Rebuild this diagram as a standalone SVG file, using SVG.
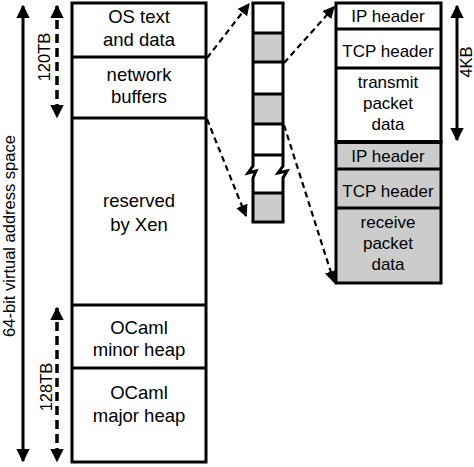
<svg xmlns="http://www.w3.org/2000/svg" width="474" height="467" viewBox="0 0 474 467">
<style>
.box{fill:#fff;stroke:#000;stroke-width:3}
.g{fill:#cccccc;stroke:none}
.ln{stroke:#000;stroke-width:3;fill:none}
.t{font-family:"Liberation Sans",Arial,sans-serif;font-size:18.5px;text-anchor:middle;fill:#000}
.t2{font-family:"Liberation Sans",Arial,sans-serif;font-size:17px;text-anchor:middle;fill:#000}
.v{font-family:"Liberation Sans",Arial,sans-serif;font-size:16.5px;text-anchor:middle;fill:#000}
.sa{stroke:#000;stroke-width:3;fill:none}
.da{stroke:#000;stroke-width:3.5;fill:none;stroke-dasharray:9 5}
.dc{stroke:#000;stroke-width:2.2;fill:none;stroke-dasharray:6 4}
</style>
<defs>
<marker id="ah" viewBox="0 0 10 10" refX="9" refY="5" markerWidth="4.5" markerHeight="4.5" markerUnits="strokeWidth" orient="auto-start-reverse">
<path d="M0,0 L10,5 L0,10 z" fill="#000"/>
</marker>
<marker id="ahd" viewBox="0 0 10 10" refX="9" refY="5" markerWidth="3.9" markerHeight="3.9" markerUnits="strokeWidth" orient="auto-start-reverse">
<path d="M0,0 L10,5 L0,10 z" fill="#000"/>
</marker>
<marker id="ahs" viewBox="0 0 10 10" refX="9" refY="5" markerWidth="5.5" markerHeight="5.5" markerUnits="strokeWidth" orient="auto">
<path d="M0,0 L10,5 L0,10 z" fill="#000"/>
</marker>
</defs>

<g id="main-column">
<rect class="box" x="72" y="3" width="134" height="459"/>
<line class="ln" x1="72" y1="57" x2="206" y2="57"/>
<line class="ln" x1="72" y1="118" x2="206" y2="118"/>
<line class="ln" x1="72" y1="305" x2="206" y2="305"/>
<line class="ln" x1="72" y1="368" x2="206" y2="368"/>
</g>
<g id="os-text"><text class="t" x="139" y="23">OS text</text><text class="t" x="139" y="46">and data</text></g>
<g id="network-buffers"><text class="t" x="139" y="81">network</text><text class="t" x="139" y="103">buffers</text></g>
<g id="reserved"><text class="t" x="139" y="207">reserved</text><text class="t" x="139" y="231">by Xen</text></g>
<g id="minor-heap"><text class="t" x="139" y="334">OCaml</text><text class="t" x="139" y="356">minor heap</text></g>
<g id="major-heap"><text class="t" x="139" y="399">OCaml</text><text class="t" x="139" y="422">major heap</text></g>

<g id="address-space">
<line class="sa" x1="23" y1="6" x2="23" y2="461" marker-start="url(#ah)" marker-end="url(#ah)"/>
<text class="v" transform="translate(15,236) rotate(-90)">64-bit virtual address space</text>
</g>
<g id="range-120TB">
<line class="da" x1="57" y1="6" x2="57" y2="117" marker-start="url(#ahd)" marker-end="url(#ahd)"/>
<text class="v" transform="translate(50,57) rotate(-90)">120TB</text>
</g>
<g id="range-128TB">
<line class="da" x1="57" y1="308" x2="57" y2="461" marker-start="url(#ahd)" marker-end="url(#ahd)"/>
<text class="v" transform="translate(52,387) rotate(-90)">128TB</text>
</g>

<g id="buffer-strip">
<rect x="253" y="3" width="30" height="219" fill="#fff"/>
<rect class="g" x="253" y="33" width="30" height="29"/>
<rect class="g" x="253" y="94" width="30" height="30"/>
<rect class="g" x="253" y="193" width="30" height="29"/>
<line class="ln" x1="251.5" y1="3" x2="284.5" y2="3"/>
<line class="ln" x1="253" y1="33" x2="283" y2="33"/>
<line class="ln" x1="253" y1="62" x2="283" y2="62"/>
<line class="ln" x1="253" y1="94" x2="283" y2="94"/>
<line class="ln" x1="253" y1="124" x2="283" y2="124"/>
<line class="ln" x1="253" y1="155" x2="283" y2="155"/>
<line class="ln" x1="253" y1="193" x2="283" y2="193"/>
<line class="ln" x1="251.5" y1="222" x2="284.5" y2="222"/>
<path class="ln" d="M253,3 V166 L248,173 L256,171 L253,178 V222"/>
<path class="ln" d="M283,3 V166 L278,173 L287,171 L283,178 V222"/>
</g>

<g id="packet-column">
<rect class="box" x="336" y="3" width="105" height="139"/>
<rect x="336" y="142" width="105" height="141" fill="#cccccc" stroke="#000" stroke-width="3"/>
<line class="ln" x1="336" y1="29" x2="441" y2="29"/>
<line class="ln" x1="336" y1="68" x2="441" y2="68"/>
<line stroke="#000" stroke-width="4" x1="336" y1="142" x2="441" y2="142"/>
<line class="ln" x1="336" y1="169" x2="441" y2="169"/>
<line class="ln" x1="336" y1="208" x2="441" y2="208"/>
</g>
<g id="tx-ip"><text class="t2" x="388" y="22">IP header</text></g>
<g id="tx-tcp"><text class="t2" x="388" y="57">TCP header</text></g>
<g id="tx-data"><text class="t2" x="388" y="88">transmit</text><text class="t2" x="388" y="109">packet</text><text class="t2" x="388" y="130">data</text></g>
<g id="rx-ip"><text class="t2" x="388" y="162">IP header</text></g>
<g id="rx-tcp"><text class="t2" x="388" y="197">TCP header</text></g>
<g id="rx-data"><text class="t2" x="388" y="228">receive</text><text class="t2" x="388" y="249">packet</text><text class="t2" x="388" y="270">data</text></g>

<g id="range-4KB">
<line class="sa" x1="457" y1="6" x2="457" y2="140" marker-start="url(#ah)" marker-end="url(#ah)"/>
<text class="v" transform="translate(472,62) rotate(-90)">4KB</text>
</g>

<g id="connectors">
<line class="dc" x1="207" y1="58" x2="249" y2="4" marker-end="url(#ahs)"/>
<line class="dc" x1="207" y1="119" x2="246" y2="216" marker-end="url(#ahs)"/>
<line class="dc" x1="284" y1="63" x2="334" y2="7" marker-end="url(#ahs)"/>
<line class="dc" x1="284" y1="125" x2="334" y2="282" marker-end="url(#ahs)"/>
</g>
</svg>
